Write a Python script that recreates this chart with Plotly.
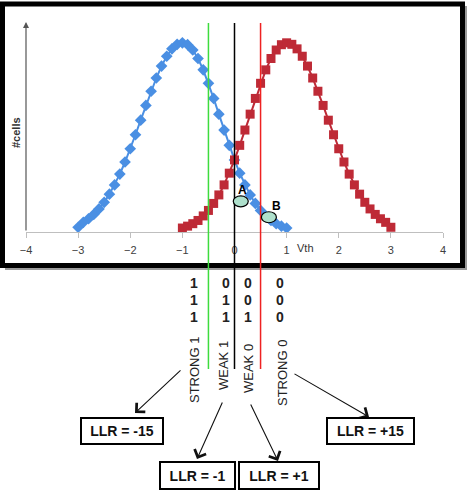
import plotly.graph_objects as go

# --- data ---
vth_erased = [-3.0, -2.9, -2.8, -2.7, -2.6, -2.5, -2.4, -2.3, -2.2, -2.1, -2.0,
              -1.9, -1.8, -1.7, -1.6, -1.5, -1.4, -1.3, -1.2, -1.1, -1.0,
              -0.9, -0.8, -0.7, -0.6, -0.5, -0.4, -0.3, -0.2, -0.1, 0.0,
              0.1, 0.2, 0.3, 0.4, 0.5, 0.6, 0.7, 0.8, 0.9, 1.0]
cells_erased = [2.5, 5.1, 7.0, 9.3, 12.2, 15.7, 20.0, 24.9, 30.6, 37.0, 44.0,
                51.4, 59.1, 66.9, 74.4, 81.4, 87.7, 92.9, 96.8, 99.2, 100.0,
                99.0, 96.2, 91.7, 85.7, 78.6, 70.6, 62.3, 53.9, 45.8, 38.1,
                31.1, 24.9, 19.6, 15.1, 11.4, 8.5, 6.1, 4.4, 3.1, 2.1]
vth_programmed = [-1.0, -0.9, -0.8, -0.7, -0.6, -0.5, -0.4, -0.3, -0.2, -0.1, 0.0,
                  0.1, 0.2, 0.3, 0.4, 0.5, 0.6, 0.7, 0.8, 0.9, 1.0,
                  1.1, 1.2, 1.3, 1.4, 1.5, 1.6, 1.7, 1.8, 1.9, 2.0,
                  2.1, 2.2, 2.3, 2.4, 2.5, 2.6, 2.7, 2.8, 2.9, 3.0]
cells_programmed = [2.1, 3.1, 4.4, 6.1, 8.5, 11.4, 15.1, 19.6, 24.9, 31.1, 38.1,
                    45.8, 53.9, 62.3, 70.6, 78.6, 85.7, 91.7, 96.2, 99.0, 100.0,
                    99.2, 96.8, 92.9, 87.7, 81.4, 74.4, 66.9, 59.1, 51.4, 44.0,
                    37.0, 30.6, 24.9, 20.0, 15.7, 12.2, 9.3, 7.0, 5.1, 2.5]

thresholds = [-0.5, 0.0, 0.5]
point_names = ['A', 'B']
point_vth = [0.12, 0.66]
point_cells = [16.2, 7.8]

bit_rows = [[1, 0, 0, 0],
            [1, 1, 0, 0],
            [1, 1, 1, 0]]
regions = ['STRONG 1', 'WEAK 1', 'WEAK 0', 'STRONG 0']
llr_values = ['-15', '-1', '+1', '+15']

# --- layout (pixels of the 472x492 page) ---
W, H = 472, 492
threshold_colors = ['#3ddc3d', '#000000', '#ee2222']
blue = '#4a8fe3'
red = '#be2a36'
font = 'Liberation Sans, Arial, sans-serif'

col_x = [194, 226, 248, 280]
row_y = [283, 300, 317]
region_xy = [(194, 370), (223, 366), (248, 369), (282, 373)]
box_xy = [(122, 431), (197, 475), (278.5, 475), (370, 431)]
box_wh = [(82, 26), (75, 27), (80, 27), (87, 26)]
arrows = [((182, 369), (135, 413)), ((223, 401), (197, 459)),
          ((250, 403), (278, 461)), ((293, 373), (369, 417))]


def px(x):
    return x / W


def py(y):
    return 1 - y / H


def label(x, y, text, size, color='#222', angle=0, **kw):
    return dict(xref='paper', yref='paper', x=px(x), y=py(y), text=text,
                textangle=angle, showarrow=False, xanchor='center',
                yanchor='middle', font=dict(size=size, color=color), **kw)


fig = go.Figure()
fig.add_trace(go.Scatter(x=vth_erased, y=cells_erased, mode='lines+markers',
                         line=dict(color=blue, width=2),
                         marker=dict(symbol='diamond', size=9, color=blue)))
fig.add_trace(go.Scatter(x=vth_programmed, y=cells_programmed, mode='lines+markers',
                         line=dict(color=red, width=2),
                         marker=dict(symbol='square', size=9, color=red)))

shapes = []
# frame with shadow
shapes.append(dict(type='rect', xref='paper', yref='paper', layer='below',
                   x0=px(5), x1=px(467), y0=py(270), y1=py(6),
                   fillcolor='#9a9a9a', line=dict(width=0)))
shapes.append(dict(type='rect', xref='paper', yref='paper', layer='below',
                   x0=px(2.5), x1=px(462.5), y0=py(265.5), y1=py(4),
                   fillcolor='white', line=dict(color='black', width=5)))
# threshold lines
for t, c in zip(thresholds, threshold_colors):
    shapes.append(dict(type='line', xref='x', yref='paper', x0=t, x1=t,
                       y0=py(369), y1=py(23), line=dict(color=c, width=1.5)))
# points A and B
for xv, yv in zip(point_vth, point_cells):
    shapes.append(dict(type='circle', xref='x', yref='y', xsizemode='pixel',
                       ysizemode='pixel', xanchor=xv, yanchor=yv,
                       x0=-7.5, x1=7.5, y0=-5.5, y1=5.5,
                       fillcolor='#aee0cc', line=dict(color='black', width=1.2)))

ann = []
# y axis arrow
ann.append(dict(xref='x', yref='paper', x=-4, y=py(22), ax=0, ay=210,
                showarrow=True, arrowhead=2, arrowsize=1, arrowwidth=1.2,
                arrowcolor='#555', text=''))
ann.append(label(16, 133, '<b>#cells</b>', 11, '#333', -90))
ann.append(label(305, 248, 'Vth', 11, '#333'))
for name, xv, yv, dx in zip(point_names, point_vth, point_cells, [2, 8]):
    ann.append(dict(xref='x', yref='y', x=xv, y=yv, text='<b>%s</b>' % name,
                    xshift=dx, yshift=11, showarrow=False, xanchor='center',
                    yanchor='middle', font=dict(size=12, color='black')))
# bit table
for r, row in enumerate(bit_rows):
    for c, bit in enumerate(row):
        ann.append(label(col_x[c], row_y[r], '<b>%d</b>' % bit, 14))
# region labels
for text, (lx, ly) in zip(regions, region_xy):
    ann.append(label(lx, ly, text, 13, '#222', -90))
# arrows to LLR boxes
for (tx, ty), (hx, hy) in arrows:
    ann.append(dict(xref='paper', yref='paper', x=px(hx), y=py(hy),
                    ax=tx - hx, ay=ty - hy, text='', showarrow=True,
                    arrowhead=4, arrowsize=2.2, arrowwidth=1.1, arrowcolor='#111'))
# LLR boxes
for v, (bx, by), (bw, bh) in zip(llr_values, box_xy, box_wh):
    ann.append(label(bx, by, '<b>LLR = %s</b>' % v, 14, '#111',
                     width=bw - 2, height=bh - 2, borderpad=0, borderwidth=2,
                     bordercolor='black', bgcolor='white'))

fig.update_layout(
    width=W, height=H,
    margin=dict(l=0, r=0, t=0, b=0, autoexpand=False),
    paper_bgcolor='white',
    plot_bgcolor='rgba(0,0,0,0)',
    showlegend=False,
    font=dict(family=font),
    shapes=shapes,
    annotations=ann,
    xaxis=dict(domain=[px(26), px(443)], range=[-4, 4], dtick=1,
               showgrid=False, zeroline=False, showline=True, automargin=False,
               linecolor='#bfbfbf', linewidth=1, ticks='outside', ticklen=5,
               tickcolor='#bfbfbf', ticklabelstandoff=3,
               tickfont=dict(size=11, color='#404040')),
    yaxis=dict(domain=[py(232), py(22)], range=[0, 111], visible=False,
               automargin=False),
)

# page body has a default 8px margin; drop it so the figure sits at 0,0
fig.write_html("out.html", config={'displayModeBar': False},
               post_script="document.body.style.margin='0';")
